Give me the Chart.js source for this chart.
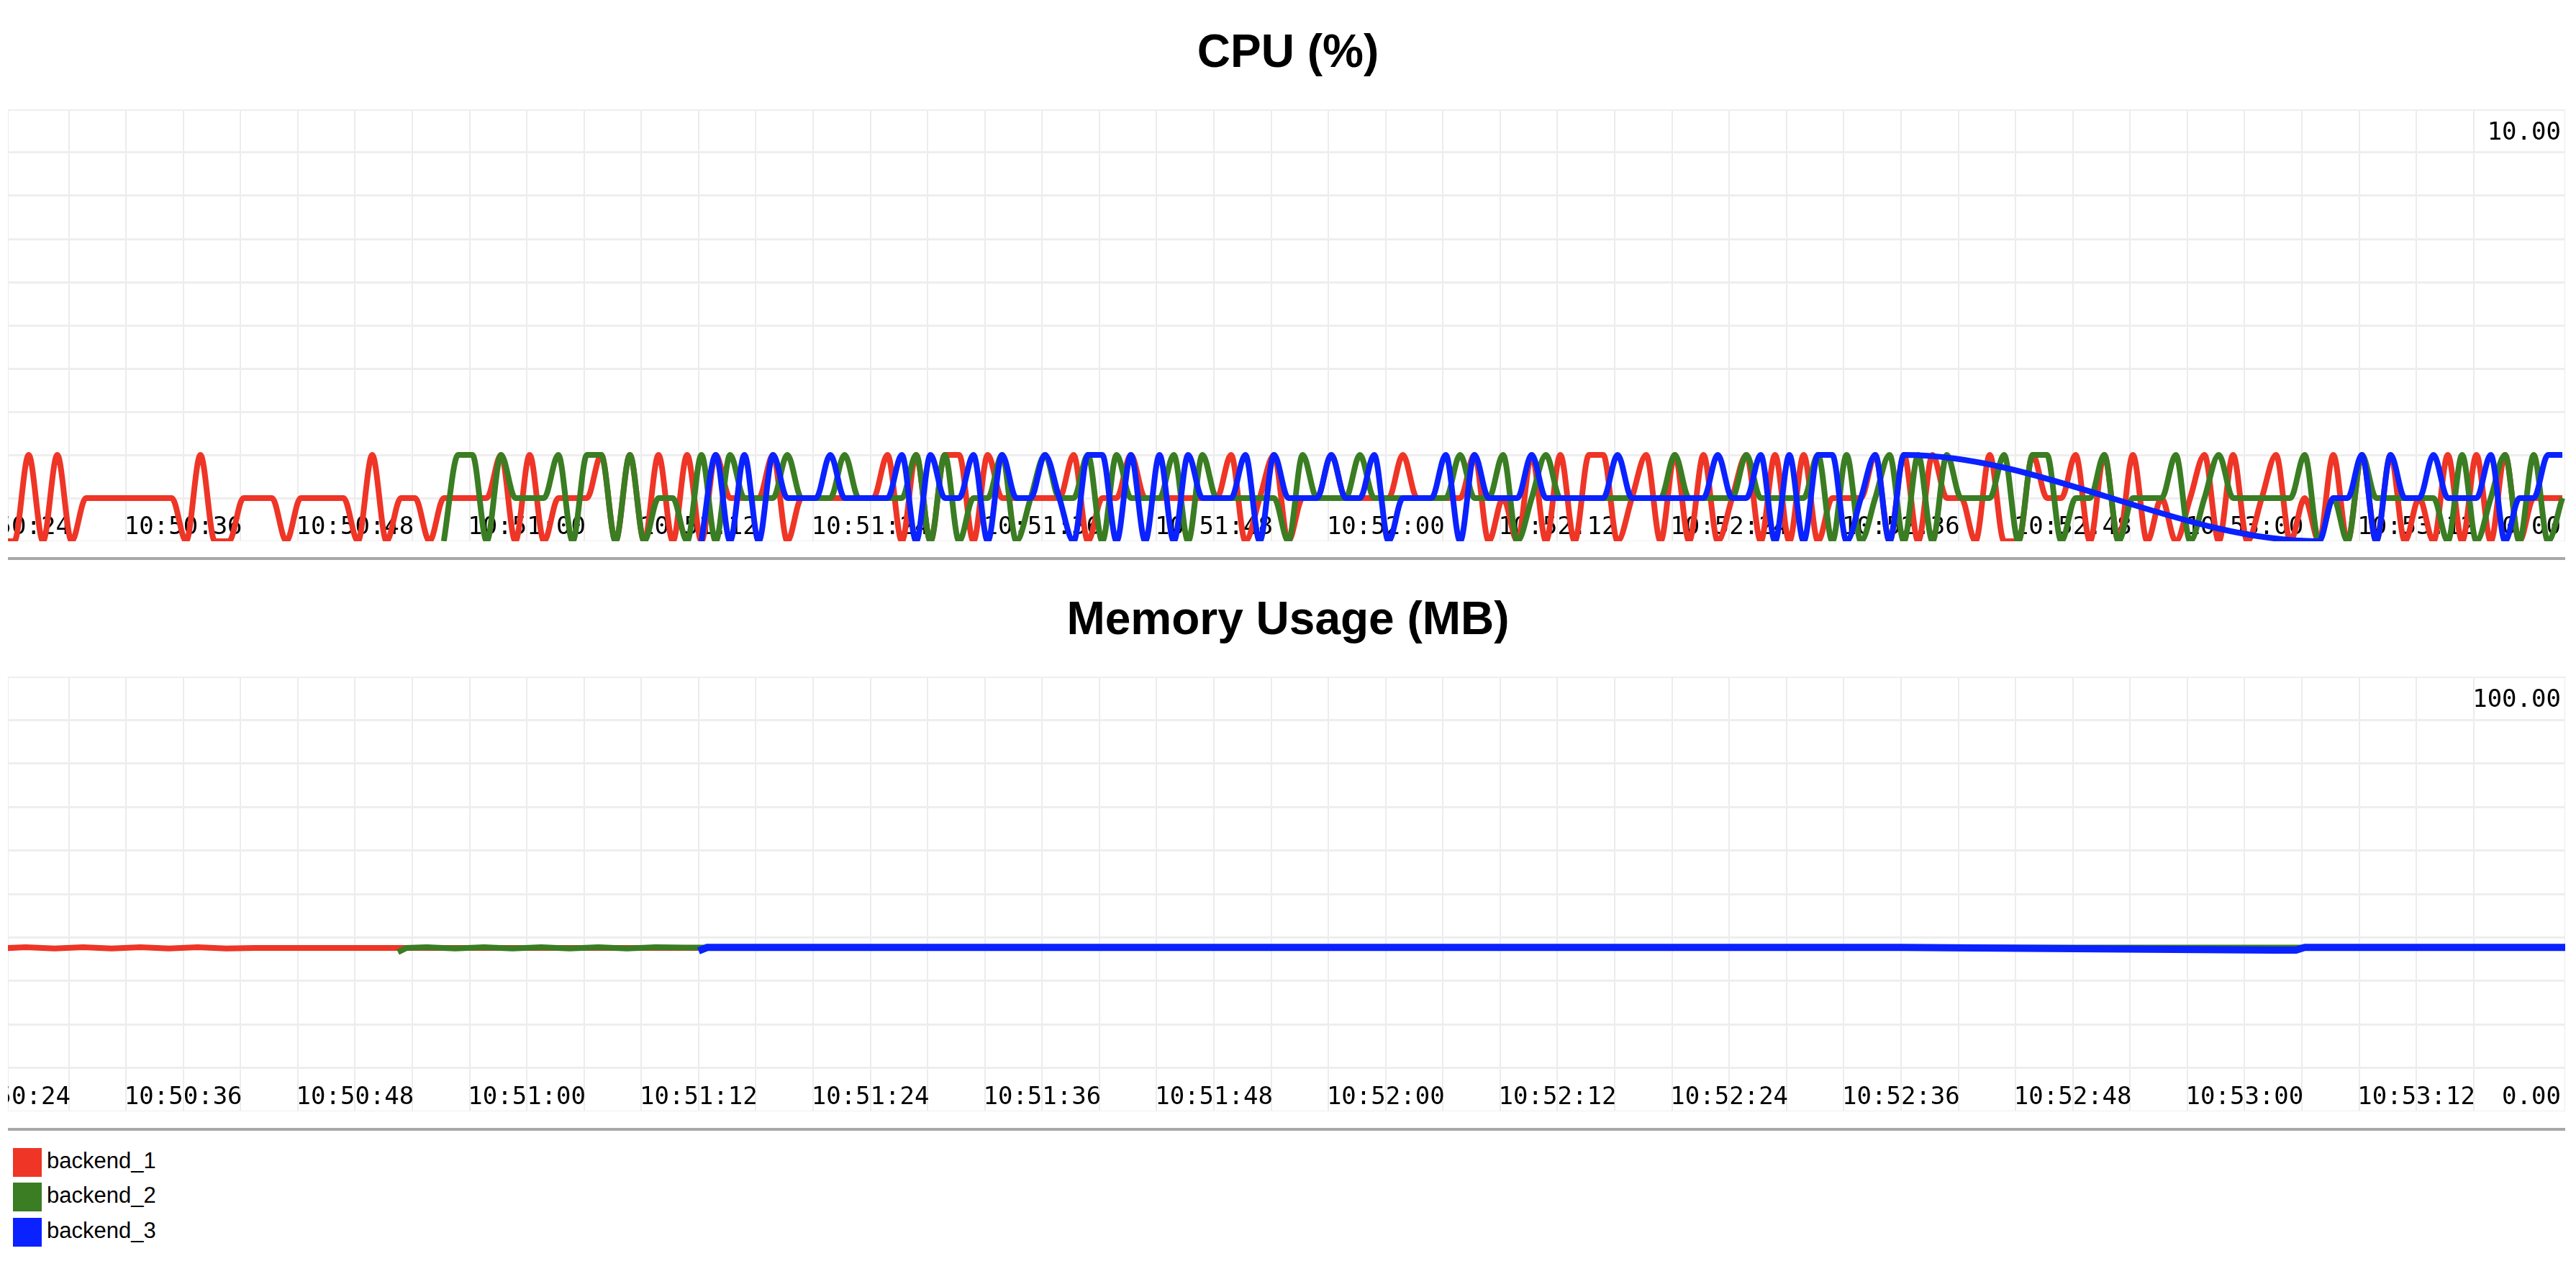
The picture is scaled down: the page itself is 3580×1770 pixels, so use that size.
<!DOCTYPE html>
<html><head><meta charset="utf-8">
<script src="https://cdn.jsdelivr.net/npm/chart.js@4"></script>
<style>
html,body{margin:0;padding:0;background:#fff;width:3580px;height:1770px;overflow:hidden;font-family:"Liberation Sans",Arial,sans-serif}
.title{position:absolute;left:0;width:3580px;text-align:center;font-weight:bold;font-size:64px;line-height:70px}
.plot{position:absolute;left:11px;width:3554px}
.sep{position:absolute;left:11px;width:3554px;height:4px;background:#a8a8a8}
.leg{position:absolute;left:18px;font-size:31px;line-height:40px}
.leg span{display:inline-block;width:40px;height:40px;vertical-align:middle;margin-right:7px}
</style></head><body>
<div class="title" style="top:36px">CPU (%)</div>
<div class="plot" style="top:152px;height:600px"><canvas id="cpu"></canvas></div>
<div class="sep" style="top:774px"></div>
<div class="title" style="top:824px">Memory Usage (MB)</div>
<div class="plot" style="top:940px;height:604px"><canvas id="mem"></canvas></div>
<div class="sep" style="top:1567px"></div>
<div class="leg" style="top:1593px"><span style="background:#ee3526"></span>backend_1</div>
<div class="leg" style="top:1641px"><span style="background:#3a7d22"></span>backend_2</div>
<div class="leg" style="top:1690px"><span style="background:#0a22ff"></span>backend_3</div>
<script>
// seconds of day; first CPU sample time and sample step
const T0 = 39023.2, STEP = 1;
const REF = 39024; // 10:50:24
const X_MIN = 39023.75, X_MAX = 39202.4;
const seriesNames = ["backend_1","backend_2","backend_3"];
const colors = ["#ee3526","#3a7d22","#0a22ff"];
const cpuYLabels = ["10.00","0.00"];
const memYLabels = ["100.00","0.00"];
const N=null;
const cpu1 = [0,0,2,0,2,0,1,1,1,1,1,1,1,0,2,0,0,1,1,1,0,1,1,1,1,0,2,0,1,1,
 0,1,1,1,1,2,0,2,0,1,1,1,2,0,2,0,2,0,2,0,2,1,1,1,2,0,
 1,1,1,1,1,1,2,0,2,0,2,2,0,2,1,1,1,1,1,2,0,1,1,2,1,1,1,1,1,1,2,0,1,2,
 0,1,1,2,1,1,1,1,2,1,1,1,1,2,0,1,0,2,0,2,0,2,2,0,1,2,0,2,0,
 2,0,1,2,0,2,0,2,0,1,1,1,2,0,2,0,2,1,1,0,2,0,0,2,1,1,2,0,2,
 0,2,0,1,0,1,2,0,2,0,1,2,0,1,0,2,0,2,0,2,0,1,0,2,0,2,0,2,0,1,1,1];
const cpu2 = [N,N,N,N,N,N,N,N,N,N,N,N,N,N,N,N,N,N,N,N,N,N,N,N,N,N,N,N,N,N,N,
 0,2,2,0,2,1,1,1,2,0,2,2,0,2,0,1,1,0,2,0,2,1,1,1,2,1,1,1,2,
 1,1,1,1,2,0,2,0,1,1,2,0,1,2,1,1,2,0,2,1,1,1,2,0,2,1,1,1,1,1,
 0,2,1,1,1,2,1,1,1,1,1,1,2,1,1,2,0,1,2,1,1,1,1,1,1,1,1,2,1,
 1,1,1,2,1,1,1,1,2,0,2,0,1,2,0,2,0,2,1,1,1,2,0,2,2,0,1,1,2,0,
 1,1,1,2,0,1,2,1,1,1,1,1,2,0,1,0,2,1,1,1,1,1,0,2,0,1,2,0,2,0,1];
const cpu3 = [N,N,N,N,N,N,N,N,N,N,N,N,N,N,N,N,N,N,N,N,N,N,N,N,N,N,N,N,N,N,N,N,N,N,N,N,N,N,N,N,N,N,N,N,N,N,N,N,N,
 0,2,0,2,0,2,1,1,1,2,1,
 1,1,1,2,0,2,1,1,2,0,2,1,1,2,1,0,2,2,0,2,0,2,0,2,1,1,1,2,0,
 2,1,1,1,2,1,1,2,0,1,1,1,2,0,2,1,1,1,2,1,1,1,1,1,2,1,1,1,1,1,
 1,2,1,1,2,0,2,0,2,2,0,1,2,0,2,
 N,N,N,N,N,N,N,N,N,N,N,N,N,N,N,N,N,N,N,N,N,N,N,N,N,N,N,N,
 0,1,1,2,0,2,1,1,2,1,1,1,2,0,1,1,2,2];
// memory: sample times (seconds after 10:50:24) and values
const mem1T = [-1,1,3,5,7,9,11,13,15,17,178.5];
const mem1V = [37.45,37.75,37.45,37.75,37.45,37.75,37.45,37.75,37.45,37.6,37.6];
const mem2T = [27,27.6,29,31,33,35,37,39,41,43,45,47,178.5];
const mem2V = [36.6,37.6,37.75,37.45,37.75,37.45,37.75,37.45,37.75,37.45,37.75,37.65,37.65];
const mem3T = [48,48.6,132,158,159.6,160.2,178.5];
const mem3V = [36.9,37.7,37.7,37.1,37.1,37.7,37.7];

function fmt(v){const s=Math.round(v);const h=Math.floor(s/3600),m=Math.floor(s%3600/60),x=s%60;
 return [h,m,x].map(n=>String(n).padStart(2,'0')).join(':');}
const overlay = {
 id:'overlay',
 beforeDatasetsDraw(chart,args,opts){
  const {ctx,chartArea:a,scales:{x}}=chart;
  ctx.save();ctx.fillStyle='#000';ctx.font='34px "DejaVu Sans Mono", monospace';
  ctx.textAlign='center';ctx.textBaseline='bottom';
  for(let t=Math.ceil(X_MIN/12)*12;t<=X_MAX;t+=12){ctx.fillText(fmt(t),x.getPixelForValue(t),a.bottom-2);}
  ctx.textAlign='right';ctx.textBaseline='top';
  ctx.fillText(opts.labels[0],a.right-6,a.top+16);
  ctx.textBaseline='bottom';
  ctx.fillText(opts.labels[1],a.right-6,a.bottom-2);
  ctx.restore();
 }
};
function mk(id,datasets,ymax,labels,smooth){
 return new Chart(document.getElementById(id),{type:'line',
  data:{datasets},
  options:{responsive:true,maintainAspectRatio:false,animation:false,
   layout:{padding:0},
   elements:{point:{radius:0},line:{borderWidth:8,tension:smooth?0.4:0,cubicInterpolationMode:smooth?'monotone':'default'}},
   plugins:{legend:{display:false},tooltip:{enabled:false},overlay:{labels}},
   scales:{
    x:{type:'linear',min:X_MIN,max:X_MAX,ticks:{display:false,stepSize:4,maxTicksLimit:200,autoSkip:false},
       grid:{color:'#ececec',lineWidth:2,drawTicks:false},border:{display:false}},
    y:{min:0,max:ymax,ticks:{display:false,stepSize:ymax/10},grid:{color:'#eeeeee',lineWidth:3,drawTicks:false},border:{display:false}}
   }},
  plugins:[overlay]});
}
// order: blue drawn on top, red at the bottom
const cpuSets=[cpu1,cpu2,cpu3].map((arr,i)=>({label:seriesNames[i],borderColor:colors[i],spanGaps:true,order:2-i,
 data:arr.map((v,k)=>({x:T0+k*STEP,y:v}))}));
mk('cpu',cpuSets,10,cpuYLabels,true);
const memSets=[[mem1T,mem1V],[mem2T,mem2V],[mem3T,mem3V]].map(([T,V],i)=>({label:seriesNames[i],borderColor:colors[i],borderWidth:i==2?10:8,order:2-i,
 data:T.map((t,k)=>({x:REF+t,y:V[k]}))}));
mk('mem',memSets,100,memYLabels,false);
</script></body></html>
